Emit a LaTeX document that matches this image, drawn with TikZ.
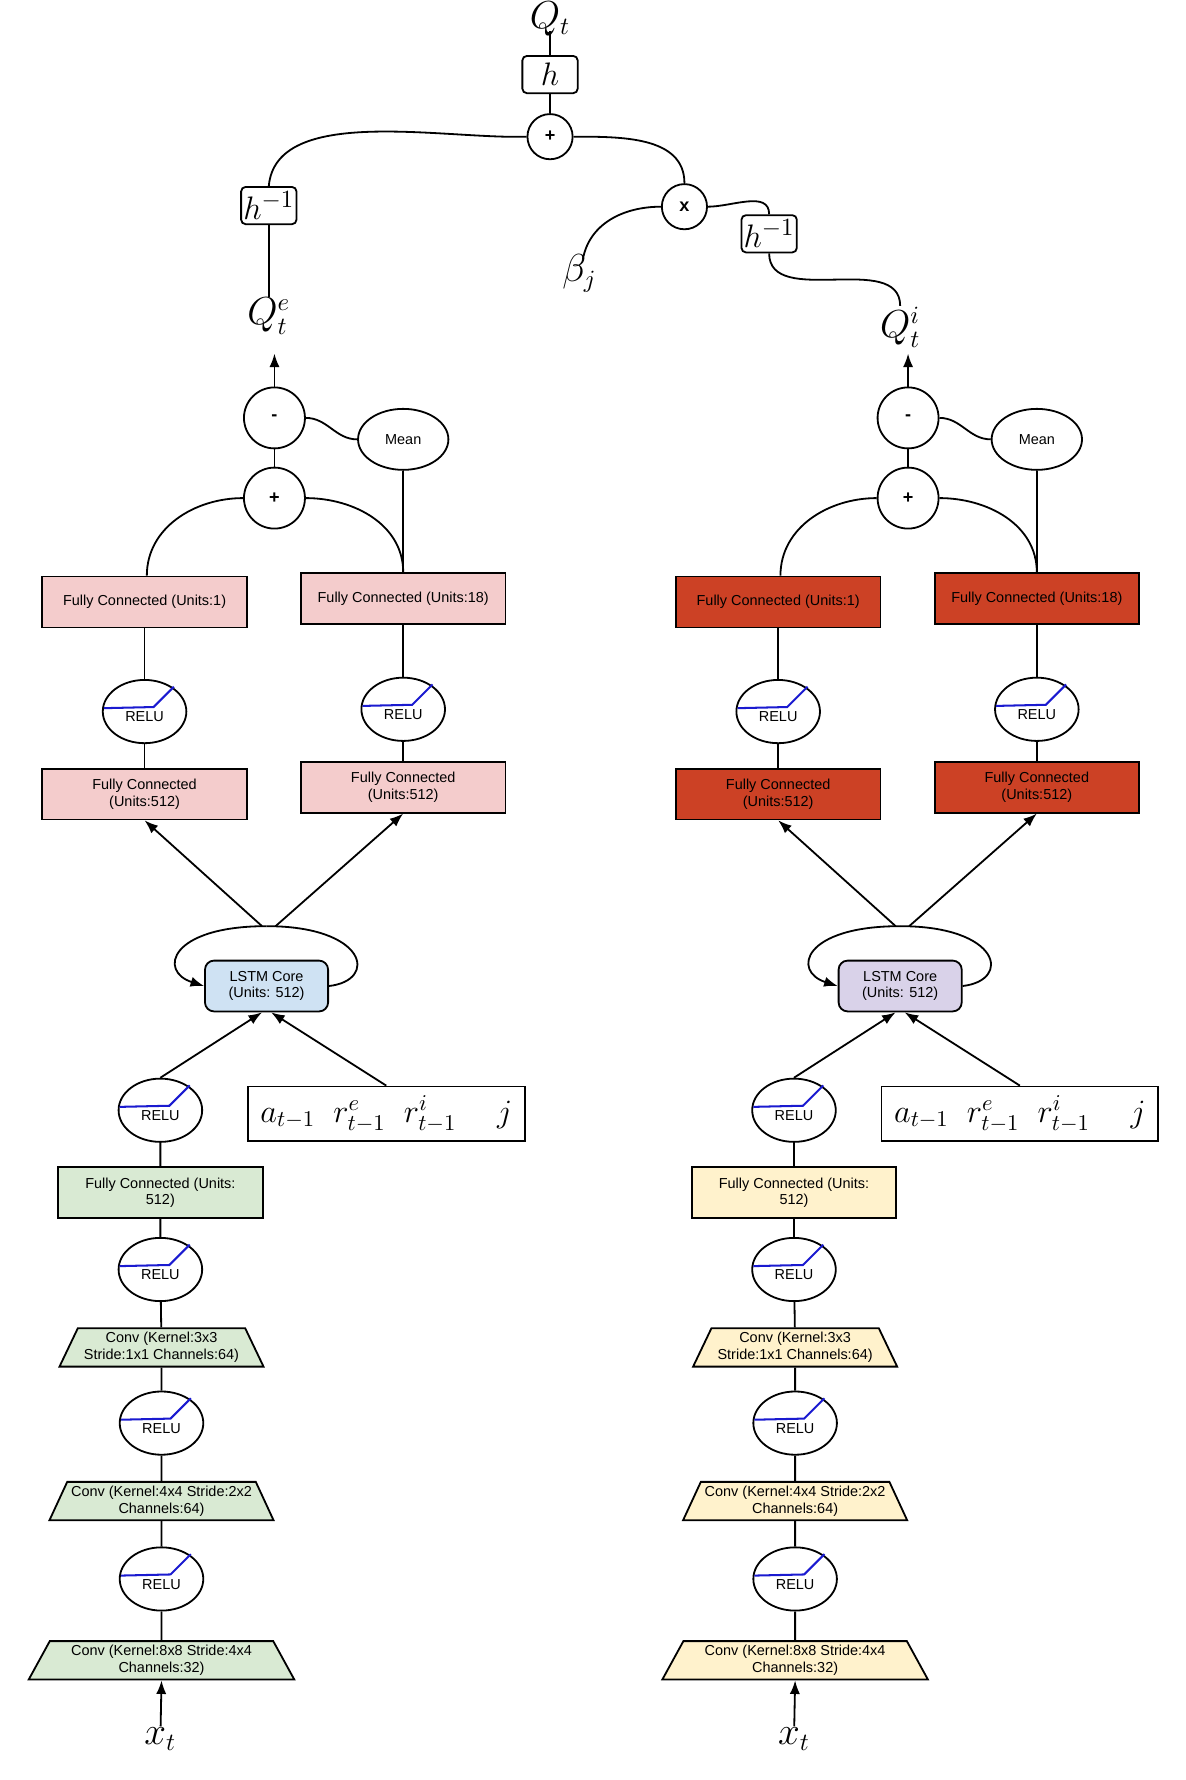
\documentclass[tikz,border=0pt]{standalone}
\usepackage{amsmath}
\usepackage{fontspec}
\setmainfont{Liberation Sans}
\usetikzlibrary{shapes.geometric,calc,arrows.meta}
\definecolor{pinkfc}{HTML}{F4CCCC}
\definecolor{redfc}{HTML}{CC4125}
\definecolor{bluecore}{HTML}{CFE2F3}
\definecolor{lavcore}{HTML}{D9D2E9}
\definecolor{greenconv}{HTML}{D9EAD3}
\definecolor{yellowconv}{HTML}{FFF2CC}
\definecolor{reluline}{HTML}{1A1AD0}
\tikzset{
  small/.style={font=\fontsize{6.4}{7.4}\selectfont, align=center},
  fc/.style={small, draw, line width=0.8pt, rectangle, minimum width=90.5pt, minimum height=22.5pt, inner sep=1pt},
  conv/.style={small, draw, line width=0.8pt, trapezium, trapezium stretches=true, trapezium angle=62, minimum height=17pt, inner sep=0.5pt},
  relu/.style={small, draw, line width=0.8pt, ellipse, minimum width=37pt, minimum height=28pt, inner sep=0pt},
  op/.style={draw, line width=0.8pt, circle, minimum size=27pt, inner sep=0pt, font=\bfseries\fontsize{8}{8}\selectfont},
  bigop/.style={draw, line width=0.8pt, circle, minimum size=20pt, inner sep=0pt, font=\bfseries\fontsize{8}{8}\selectfont},
  hbox/.style={draw, line width=0.8pt, rounded corners=2pt, minimum width=24.5pt, minimum height=16.5pt, inner sep=0pt, font=\fontsize{15}{16}\selectfont},
  lab/.style={inner sep=0.5pt, font=\fontsize{16}{17}\selectfont},
  wire/.style={line width=0.8pt},
  arr/.style={line width=0.8pt, -{Latex[length=6pt,width=4.5pt]}},
}
\begin{document}
\begin{tikzpicture}[x=0.5pt,y=0.5pt,yscale=-1,xscale=1]
\useasboundingbox (0,0) rectangle (1050,1576);

% two streams: extrinsic (left) and intrinsic (right)
\foreach \c/\dx/\cfc/\ccore/\cconv in {e/0/pinkfc/bluecore/greenconv, i/561/redfc/lavcore/yellowconv}{
\begin{scope}[xshift=\dx*0.5pt]
  % input and convolution stack
  \node[lab] (x\c) at (142,1540) {$x_t$};
  \node[conv, fill=\cconv, minimum width=118.5pt] (convA\c) at (143,1470) {Conv (Kernel:8x8 Stride:4x4\\Channels:32)};
  \node[relu] (reluA\c) at (143,1398) {\raisebox{-9pt}{RELU}};
  \node[conv, fill=\cconv, minimum width=100pt] (convB\c) at (143,1329) {Conv (Kernel:4x4 Stride:2x2\\Channels:64)};
  \node[relu] (reluB\c) at (143,1260) {\raisebox{-9pt}{RELU}};
  \node[conv, fill=\cconv, minimum width=91pt] (convC\c) at (143,1193) {Conv (Kernel:3x3\\Stride:1x1 Channels:64)};
  \node[relu] (reluC\c) at (142,1124) {\raisebox{-9pt}{RELU}};
  \node[fc, fill=\cconv] (fcA\c) at (142,1056) {Fully Connected (Units:\\512)};
  \node[relu] (reluD\c) at (142,983) {\raisebox{-9pt}{RELU}};
  % recurrent core
  \node[small, draw, line width=0.8pt, rounded corners=4pt, fill=\ccore, minimum width=54.5pt, minimum height=22.5pt] (core\c) at (236,873) {LSTM Core\\(Units: 512)};
  \node[draw, line width=0.8pt, minimum width=122.5pt, minimum height=24pt, inner sep=1pt, font=\fontsize{14}{15}\selectfont] (inp\c) at (342,986) {$a_{t-1}\;\; r^e_{t-1}\;\; r^i_{t-1}\quad\; j$};
  \coordinate (loop\c) at (236,820);
  % dueling heads
  \node[fc, fill=\cfc] (fcB\c) at (128,703) {Fully Connected\\(Units:512)};
  \node[fc, fill=\cfc] (fcC\c) at (357,697) {Fully Connected\\(Units:512)};
  \node[relu] (reluE\c) at (128,630) {\raisebox{-9pt}{RELU}};
  \node[relu] (reluF\c) at (357,628) {\raisebox{-9pt}{RELU}};
  \node[fc, fill=\cfc] (val\c) at (128,533) {Fully Connected (Units:1)};
  \node[fc, fill=\cfc] (adv\c) at (357,530) {Fully Connected (Units:18)};
  \node[op] (plus\c) at (243,441) {+};
  \node[op] (minus\c) at (243,370) {-};
  \node[small, draw, line width=0.8pt, ellipse, minimum width=40pt, minimum height=27pt, inner sep=0pt] (mean\c) at (357,389) {Mean};
  \coordinate (qarr\c) at (243,313);

  % relu icons
  \foreach \r in {reluA\c,reluB\c,reluC\c,reluD\c,reluE\c,reluF\c}
    \draw[reluline, line width=0.9pt] ($(\r.center)+(-36,-3)$) -- ++(44,-1) -- ++(18,-18);

  % connections
  \draw[arr] (x\c) -- (convA\c.bottom side);
  \draw[wire] (convA\c) -- (reluA\c) -- (convB\c) -- (reluB\c) -- (convC\c) -- (reluC\c) -- (fcA\c) -- (reluD\c);
  \draw[arr] (reluD\c.north) -- ($(core\c.south)+(-4,0)$);
  \draw[arr] (inp\c.north) -- ($(core\c.south)+(4,0)$);
  \draw[wire] (core\c.east) .. controls (335,868) and (325,820) .. (loop\c);
  \draw[arr] (loop\c) .. controls (150,820) and (140,860) .. (core\c.west);
  \draw[arr] ($(loop\c)+(-4,0)$) -- (fcB\c.south);
  \draw[arr] ($(loop\c)+(8,0)$) -- (fcC\c.south);
  \draw[wire] (fcB\c) -- (reluE\c) -- (val\c);
  \draw[wire] (fcC\c) -- (reluF\c) -- (adv\c);
  \draw[wire] ($(val\c.north)+(2,0)$) to[out=-90,in=180] (plus\c.west);
  \draw[wire] (adv\c.north) to[out=-90,in=0] (plus\c.east);
  \draw[wire] (adv\c.north) -- (mean\c.south);
  \draw[wire] (minus\c.east) to[out=0,in=180] (mean\c.west);
  \draw[wire] (plus\c) -- (minus\c);
  \draw[arr] (minus\c.north) -- (qarr\c);
\end{scope}
}

% combining the two value streams
\node[lab] (qe) at (238,280) {$Q^e_t$};
\node[lab] (qi) at (797,290) {$Q^i_t$};
\node[hbox] (hinvL) at (238,182) {$h^{-1}$};
\node[hbox] (hinvR) at (681,207) {$h^{-1}$};
\node[bigop] (times) at (606,183) {x};
\node[lab] (beta) at (513,242) {$\beta_j$};
\node[bigop] (ptop) at (487,121) {+};
\node[hbox] (h) at (487,66) {$h$};
\node[lab] (qt) at (487,17) {$Q_t$};

\draw[wire] (qe.north) -- (hinvL.south);
\draw[wire] (hinvL.north) to[out=-85,in=178,looseness=0.8] (ptop.west);
\draw[wire] (ptop.east) to[out=0,in=-90] (times.north);
\draw[wire] (times.west) to[out=180,in=-80] ($(beta.north)+(3,6)$);
\draw[wire] (times.east) to[out=0,in=-90] (hinvR.north);
\draw[wire] (hinvR.south) to[out=90,in=-90] (qi.north);
\draw[wire] (ptop.north) -- (h.south);
\draw[wire] (h.north) -- ($(qt.south)+(0,-6)$);
\end{tikzpicture}
\end{document}
